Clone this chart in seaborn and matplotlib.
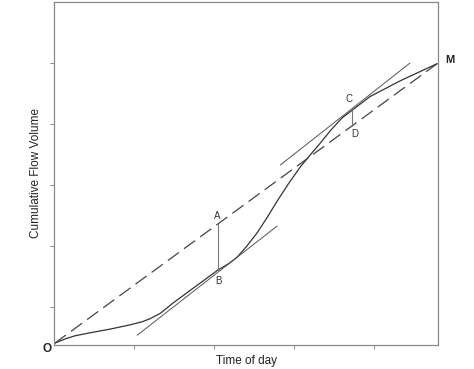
import matplotlib
matplotlib.use("Agg")
import matplotlib.pyplot as plt
import seaborn as sns
import numpy as np

# --- style ---
sns.set_style("ticks")
plt.rcParams['font.family'] = ['Liberation Sans', 'DejaVu Sans']

# --- data ---
# cumulative arrival curve
curve_x = [0.01, 0.14, 0.26, 0.45, 0.70, 0.95, 1.10, 1.20, 1.33, 1.49,
           1.76, 2.05, 2.18, 2.29, 2.41, 2.54, 2.66, 2.80, 2.94, 3.08,
           3.20, 3.33, 3.46, 3.60, 3.73, 3.83, 3.95, 4.14, 4.33, 4.51, 4.79]
curve_y = [0.03, 0.10, 0.15, 0.20, 0.26, 0.33, 0.38, 0.43, 0.52, 0.69,
           0.95, 1.23, 1.33, 1.44, 1.62, 1.84, 2.08, 2.38, 2.66, 2.92,
           3.11, 3.31, 3.52, 3.72, 3.85, 3.95, 4.07, 4.20, 4.33, 4.44, 4.61]

# average-rate line O -> M
avg_x = [0.01, 4.79]
avg_y = [0.03, 4.61]

# tangents at B and C
tanB_x = [1.04, 2.79]
tanB_y = [0.16, 1.95]
tanC_x = [2.83, 4.45]
tanC_y = [2.95, 4.62]

# vertical gaps A-B and C-D
ab_x = [2.05, 2.05]
ab_y = [1.23, 1.98]
cd_x = [3.73, 3.73]
cd_y = [3.85, 3.59]

point_labels = ['A', 'B', 'C', 'D']
point_lx = [2.04, 2.06, 3.69, 3.76]
point_ly = [2.11, 1.05, 4.03, 3.46]

x_ticks = [1, 2, 3, 4]
y_ticks = [0.62, 1.62, 2.62, 3.62, 4.62]

# --- figure ---
fig = plt.figure(figsize=(4.74, 3.69), dpi=100)
ax = fig.add_axes([54 / 474, 1 - 345 / 369, 384 / 474, 343 / 369])

sns.lineplot(x=curve_x, y=curve_y, ax=ax, sort=False, color='#333333', lw=0.9,
             solid_joinstyle='round')
sns.lineplot(x=tanB_x, y=tanB_y, ax=ax, sort=False, color='#555555', lw=0.7)
sns.lineplot(x=tanC_x, y=tanC_y, ax=ax, sort=False, color='#555555', lw=0.7)
ax.plot(avg_x, avg_y, color='#444444', lw=0.9, linestyle=(0, (11, 5)))
ax.plot(ab_x, ab_y, color='#777777', lw=0.8)
ax.plot(cd_x, cd_y, color='#777777', lw=0.8)

for lab, lx, ly in zip(point_labels, point_lx, point_ly):
    ax.text(lx, ly, lab, ha='center', va='center', fontsize=7, color='#333333')

ax.text(-0.09, -0.07, 'O', ha='center', va='center', fontsize=8.5,
        fontweight='bold', color='#222222', clip_on=False)
ax.text(4.95, 4.67, 'M', ha='center', va='center', fontsize=8,
        fontweight='bold', color='#222222', clip_on=False)

ax.set_xlim(0, 4.8)
ax.set_ylim(0, 5.62)
ax.set_xticks(x_ticks)
ax.set_yticks(y_ticks)
ax.set_xticklabels([])
ax.set_yticklabels([])
ax.tick_params(direction='out', length=3, width=0.7, color='#888888')

for sp in ax.spines.values():
    sp.set_visible(True)
    sp.set_color('#888888')
    sp.set_linewidth(0.9)

ax.set_xlabel('Time of day', fontsize=8.5, color='#222222', labelpad=1)
ax.set_ylabel('Cumulative Flow Volume', fontsize=8.5, color='#222222', labelpad=2)

fig.savefig('out.png', dpi=100)
